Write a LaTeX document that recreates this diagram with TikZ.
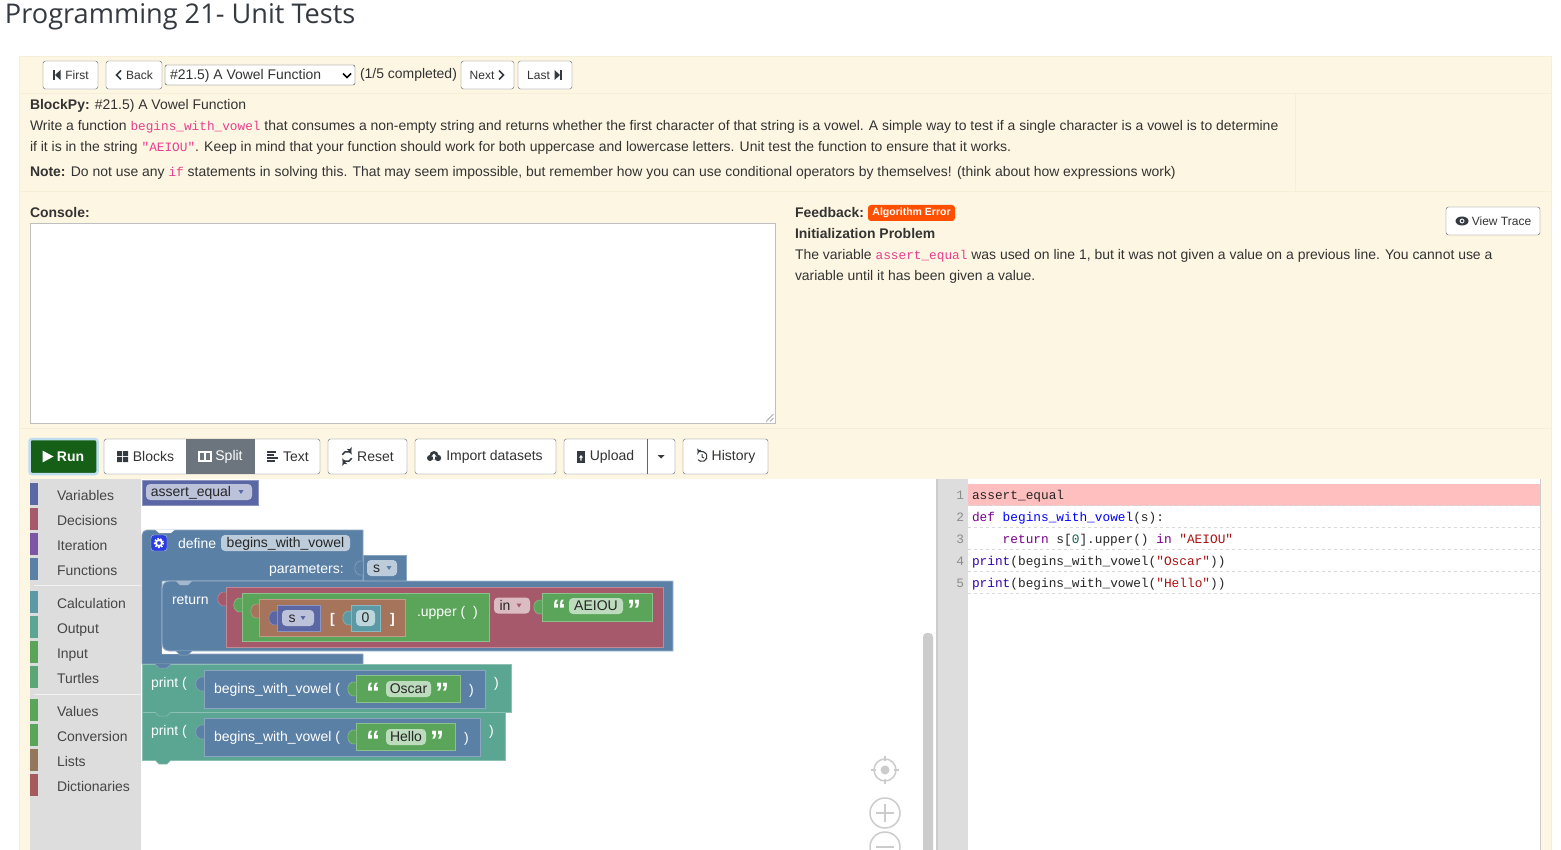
\documentclass[tikz,border=0pt]{standalone}
\usepackage{fontspec}
\setmainfont{Liberation Sans}
\setmonofont{Liberation Mono}
\newfontfamily\titlefont{Open Sans}
\usepackage{tikz}
\usetikzlibrary{positioning,shapes,arrows,backgrounds,calc}
\definecolor{panelbg}{HTML}{FDF6E3}
\definecolor{panelline}{HTML}{F6EFD8}
\definecolor{bodytext}{HTML}{333333}
\definecolor{codepink}{HTML}{E83E8C}
\definecolor{iconink}{HTML}{343A40}
\definecolor{btnline}{HTML}{5F666D}
\definecolor{splitgray}{HTML}{6C757D}
\definecolor{toolgray}{HTML}{DDDDDD}
\definecolor{rungreen}{HTML}{155F16}
\definecolor{runring}{HTML}{BEDDF0}
\definecolor{badgeorange}{HTML}{FF4F00}
\definecolor{gearblue}{HTML}{2A3DE0}
\definecolor{varcol}{HTML}{5B67A5}
\definecolor{logiccol}{HTML}{A5596A}
\definecolor{itercol}{HTML}{7D55A5}
\definecolor{fncol}{HTML}{5B80A5}
\definecolor{mathcol}{HTML}{5B99A5}
\definecolor{printcol}{HTML}{5BA593}
\definecolor{textcol}{HTML}{5BA55B}
\definecolor{listcol}{HTML}{A5745B}
\definecolor{dictcol}{HTML}{A55B5B}
\definecolor{cmkey}{HTML}{770088}
\definecolor{cmdef}{HTML}{0000FF}
\definecolor{cmbuiltin}{HTML}{3300AA}
\definecolor{cmstr}{HTML}{AA1111}
\definecolor{cmnum}{HTML}{116644}
\tikzstyle{page} = [anchor=base west, inner sep=0, outer sep=0, font=\fontsize{13.95}{16}\selectfont, text=bodytext]
\tikzstyle{btn} = [rectangle, draw=btnline, fill=white, rounded corners=2.5pt, %
   inner sep=0, outer sep=0, minimum height=28pt, text=bodytext, font=\fontsize{12}{14}\selectfont]
\tikzstyle{btnbig} = [btn, minimum height=35pt, font=\fontsize{14}{16}\selectfont]
\tikzstyle{seg} = [btnbig, draw=none, fill=none, rounded corners=0pt]
\tikzstyle{tool} = [page, text=black!73]
\tikzstyle{toolbar} = [rectangle, inner sep=0, outer sep=0, minimum width=8pt, minimum height=22pt]
\tikzstyle{block} = [rectangle, anchor=north west, inner sep=0, outer sep=0, line width=0.7pt]
\tikzstyle{varblock} = [block, fill=varcol, draw=varcol!70!white]
\tikzstyle{fnblock} = [block, fill=fncol, draw=fncol!70!white]
\tikzstyle{logicblock} = [block, fill=logiccol, draw=logiccol!70!white]
\tikzstyle{listblock} = [block, fill=listcol, draw=listcol!70!white]
\tikzstyle{textblock} = [block, fill=textcol, draw=textcol!70!white]
\tikzstyle{mathblock} = [block, fill=mathcol, draw=mathcol!70!white]
\tikzstyle{printblock} = [block, fill=printcol, draw=printcol!70!white]
\tikzstyle{field} = [rectangle, rounded corners=4pt, fill=white, fill opacity=0.6, text opacity=1, %
   inner sep=0, outer sep=0, minimum height=16pt, text height=12.5pt, text depth=3.5pt, %
   text=black!85, font=\fontsize{14}{16}\selectfont]
\tikzstyle{btext} = [anchor=base west, inner sep=0, outer sep=0, text=white, font=\fontsize{14}{16}\selectfont]
\tikzstyle{quotes} = [anchor=base west, inner sep=0, outer sep=0, text=white, font=\fontsize{28}{28}\bfseries\rmfamily]
\tikzstyle{codeline} = [anchor=base west, inner sep=0, outer sep=0, text=black!85, font=\fontsize{12.8}{14}\ttfamily]
\tikzstyle{lineno} = [anchor=base east, inner sep=0, outer sep=0, text=black!45, font=\fontsize{12.8}{14}\ttfamily]
\tikzstyle{zoomer} = [draw=black!20, line width=1.5pt]
\newcommand{\incode}[1]{\textcolor{codepink}{\fontsize{12.75}{14}\ttfamily #1}}
% left-hand jigsaw bump of a block
\newcommand{\jigsaw}[3]{\filldraw[fill=#3, draw=#3!70!white, line width=0.5pt] (#1,#2) %
   .. controls (#1-11,#2-2) and (#1-11,#2+16) .. (#1,#2+14);}
% little tab under a statement block
\newcommand{\undertab}[3]{\filldraw[fill=#3, draw=#3!70!white, line width=0.5pt] (#1,#2) -- (#1+4,#2+4) -- (#1+12,#2+4) -- (#1+16,#2);}
\newcommand{\dropmark}[3]{\fill[#3] (#1-2.5,#2-2) -- (#1+2.5,#2-2) -- (#1,#2+2) -- cycle;}
\begin{document}
\begin{tikzpicture}[x=1pt,y=-1pt]
   \clip (0,0) rectangle (1561,850);
   \fill[white] (0,0) rectangle (1561,850);
   \node[page, text=iconink, font=\fontsize{27.15}{32}\titlefont] (title) at (5,24) {Programming 21- Unit Tests};

   % PANEL %%%%%%%%%%%%%%%%%%%%%%%%%%%%%%%%%%%%%%%%%%%%%%%%%%
   \filldraw[fill=panelbg, draw=panelline] (19,56) rectangle (1551,860);
   \draw[panelline] (19,93.5) -- (1551,93.5);
   \draw[panelline] (19,191.5) -- (1551,191.5);
   \draw[panelline] (19,428.5) -- (1551,428.5);
   \draw[panelline] (1295.5,93.5) -- (1295.5,191.5);

   % Navigation row
   \node[btn, minimum width=55pt] (first) at (70.5,75) {\hspace{13pt}First};
   \node[btn, minimum width=56pt, right=8pt of first] (back) {\hspace{11pt}Back};
   \node[rectangle, draw=black!75, fill=white, rounded corners=2pt, inner sep=0, outer sep=0, %
      minimum width=190pt, minimum height=20pt, anchor=west] (chooser) at (165,75) {};
   \node[page] (choosertext) at (170,80) {\#21.5) A Vowel Function};
   \node[page] (completed) at (360,79) {(1/5 completed)};
   \node[btn, minimum width=53pt] (next) at (487.5,75) {Next\kern11pt};
   \node[btn, minimum width=54pt, right=4pt of next] (last) {Last\kern13pt};
   \fill[iconink] ([xshift=10pt,yshift=5pt]first.west) rectangle ++(2,10);
   \fill[iconink] ([xshift=12pt]first.west) -- ++(5.5,-5) -- ++(0,10) -- cycle;
   \draw[iconink, line width=1.6pt] ([xshift=15pt,yshift=4.5pt]back.west) -- ++(-4.5,4.5) -- ++(4.5,4.5);
   \draw[iconink, line width=1.6pt] ([xshift=-15pt,yshift=4.5pt]next.east) -- ++(4.5,4.5) -- ++(-4.5,4.5);
   \fill[iconink] ([xshift=-10pt,yshift=5pt]last.east) rectangle ++(-2,10);
   \fill[iconink] ([xshift=-12pt]last.east) -- ++(-5.5,-5) -- ++(0,10) -- cycle;
   \draw[black, line width=1.5pt] ([xshift=-12pt,yshift=1.5pt]chooser.east) -- ++(4,4) -- ++(4,-4);

   % Instructions
   \node[page] (blockpy) at (30,110) {\textbf{BlockPy:} \#21.5) A Vowel Function};
   \node[page] (prompta) at (30,131) {Write a function \incode{begins\_with\_vowel} that consumes a non-empty string and returns whether the first character of that string is a vowel. A simple way to test if a single character is a vowel is to determine};
   \node[page] (promptb) at (30,152) {if it is in the string \incode{"AEIOU"}. Keep in mind that your function should work for both uppercase and lowercase letters. Unit test the function to ensure that it works.};
   \node[page] (note) at (30,177) {\textbf{Note:} Do not use any \incode{if} statements in solving this. That may seem impossible, but remember how you can use conditional operators by themselves! (think about how expressions work)};

   % Console and feedback
   \node[page] (consolelabel) at (30,218) {\textbf{Console:}};
   \node[rectangle, draw=black!25, fill=white, inner sep=0, outer sep=0, minimum width=745pt, minimum height=200pt, anchor=north west] (console) at (30,223) {};
   \draw[black!50] ([xshift=-9pt,yshift=1.5pt]console.south east) -- ([xshift=-1.5pt,yshift=9pt]console.south east);
   \draw[black!50] ([xshift=-5pt,yshift=1.5pt]console.south east) -- ([xshift=-1.5pt,yshift=5pt]console.south east);
   \node[page] (feedbacklabel) at (795,218) {\textbf{Feedback:}};
   \node[rectangle, fill=badgeorange, rounded corners=3pt, inner sep=0, outer sep=0, minimum width=87pt, minimum height=16pt, %
      anchor=west, text=white, font=\fontsize{10.5}{12}\bfseries\selectfont] (badge) at (868,213) {Algorithm Error};
   \node[page] (problem) at (795,239) {\textbf{Initialization Problem}};
   \node[page] (feedbacka) at (795,260) {The variable \incode{assert\_equal} was used on line 1, but it was not given a value on a previous line. You cannot use a};
   \node[page] (feedbackb) at (795,281) {variable until it has been given a value.};
   \node[btn, minimum width=94pt] (trace) at (1493,221) {\hspace{17pt}View Trace};
   \fill[iconink, even odd rule] ([xshift=16pt]trace.west) ellipse [x radius=6.5, y radius=4.5] ([xshift=16pt]trace.west) circle (2.6);
   \fill[iconink] ([xshift=16pt]trace.west) circle (1.5);

   % ACTION ROW %%%%%%%%%%%%%%%%%%%%%%%%%%%%%%%%%%%%%%%%%%%%%%
   \filldraw[fill=white, draw=btnline, rounded corners=2.5pt] (104,439) rectangle (320,474);
   \filldraw[fill=white, draw=btnline, rounded corners=2.5pt] (564,439) rectangle (675,474);
   \node[btnbig, fill=rungreen, draw=runring, line width=2.5pt, minimum width=68pt, text=white] (run) at (63.5,456.5) {\hspace{14pt}\textbf{Run}};
   \node[seg, minimum width=82pt] (blocks) at (145,456.5) {\hspace{17pt}Blocks};
   \node[seg, fill=splitgray, minimum width=69pt, right=0pt of blocks, text=white] (split) {\hspace{17pt}Split};
   \node[seg, minimum width=65pt, right=0pt of split] (texts) {\hspace{17pt}Text};
   \node[btnbig, minimum width=79pt] (reset) at (367.5,456.5) {\hspace{16pt}Reset};
   \node[btnbig, minimum width=141pt, right=8pt of reset] (import) {\hspace{18pt}Import datasets};
   \node[seg, minimum width=83pt, right=8pt of import] (upload) {\hspace{13pt}Upload};
   \draw[btnline] (upload.north east) -- (upload.south east);
   \node[seg, minimum width=28pt, right=0pt of upload] (caret) {};
   \node[btnbig, minimum width=85pt, right=8pt of caret] (history) {\hspace{16pt}History};
   \fill[white] ([xshift=13pt,yshift=6pt]run.west) -- ++(11,6) -- ++(-11,6) -- cycle;
   \fill[iconink] ([xshift=13pt,yshift=5.5pt]blocks.west) rectangle ++(5,5) ++(1,-5) rectangle ++(5,5) ++(-11,1) rectangle ++(5,5) ++(1,-5) rectangle ++(5,5);
   \draw[white, line width=1.2pt] ([xshift=13pt,yshift=4.5pt]split.west) rectangle ++(12,9) ([xshift=19pt,yshift=4.5pt]split.west) -- ++(0,9);
   \draw[iconink, line width=1.1pt] ([xshift=12pt,yshift=4.5pt]texts.west) -- ++(9,0) ++(-9,3) -- ++(7,0) ++(-7,3) -- ++(11,0) ++(-11,3) -- ++(8,0);
   \draw[iconink, line width=1.5pt, -latex'] ([xshift=19pt]reset.west) ++(200:5) arc (200:340:5);
   \draw[iconink, line width=1.5pt, -latex'] ([xshift=19pt]reset.west) ++(20:5) arc (20:160:5);
   \fill[iconink] ([xshift=19pt,yshift=1pt]import.west) circle (4.5) ([xshift=15pt,yshift=-1.5pt]import.west) circle (3) ([xshift=23pt,yshift=-1.5pt]import.west) circle (3.2);
   \fill[white] ([xshift=18.2pt,yshift=-3pt]import.west) rectangle ++(1.6,-3) ([xshift=16.5pt,yshift=0pt]import.west) -- ++(5,0) -- ++(-2.5,-3) -- cycle;
   \fill[iconink] ([xshift=13pt,yshift=6pt]upload.west) rectangle ++(8,12);
   \fill[white] ([xshift=16.3pt,yshift=-4pt]upload.west) rectangle ++(1.4,-3) ([xshift=15pt,yshift=-1pt]upload.west) -- ++(4,0) -- ++(-2,-2.5) -- cycle;
   \fill[iconink] ([xshift=-3.5pt,yshift=1.5pt]caret.center) -- ++(7,0) -- ++(-3.5,3.5) -- cycle;
   \draw[iconink, line width=1.1pt, latex'-] ([xshift=19pt]history.west) ++(200:5) arc (200:500:5);
   \draw[iconink, line width=1pt] ([xshift=19pt,yshift=2.5pt]history.west) -- ++(0,3) -- ++(2,1);

   % TOOLBOX %%%%%%%%%%%%%%%%%%%%%%%%%%%%%%%%%%%%%%%%%%%%%%%%%
   \fill[white] (30,479) rectangle (1540,860);
   \fill[toolgray] (30,479) rectangle (141,860);
   \draw[black!6, line width=1pt] (34,585.5) -- (141,585.5);
   \draw[black!6, line width=1pt] (34,694) -- (141,694);
   \node[toolbar, fill=varcol] (barvar) at (34,494) {};
   \node[tool] (toolvar) at ([xshift=19pt,yshift=-6pt]barvar.east) {Variables};
   \node[toolbar, fill=logiccol] (barlogic) at (34,519) {};
   \node[tool] (toollogic) at ([xshift=19pt,yshift=-6pt]barlogic.east) {Decisions};
   \node[toolbar, fill=itercol] (bariter) at (34,544) {};
   \node[tool] (tooliter) at ([xshift=19pt,yshift=-6pt]bariter.east) {Iteration};
   \node[toolbar, fill=fncol] (barfn) at (34,569) {};
   \node[tool] (toolfn) at ([xshift=19pt,yshift=-6pt]barfn.east) {Functions};
   \node[toolbar, fill=mathcol] (barcalc) at (34,602) {};
   \node[tool] (toolcalc) at ([xshift=19pt,yshift=-6pt]barcalc.east) {Calculation};
   \node[toolbar, fill=printcol] (barout) at (34,627) {};
   \node[tool] (toolout) at ([xshift=19pt,yshift=-6pt]barout.east) {Output};
   \node[toolbar, fill=textcol] (barin) at (34,652) {};
   \node[tool] (toolin) at ([xshift=19pt,yshift=-6pt]barin.east) {Input};
   \node[toolbar, fill=printcol!50!textcol] (barturtle) at (34,677) {};
   \node[tool] (toolturtle) at ([xshift=19pt,yshift=-6pt]barturtle.east) {Turtles};
   \node[toolbar, fill=textcol] (barval) at (34,710) {};
   \node[tool] (toolval) at ([xshift=19pt,yshift=-6pt]barval.east) {Values};
   \node[toolbar, fill=textcol] (barconv) at (34,735) {};
   \node[tool] (toolconv) at ([xshift=19pt,yshift=-6pt]barconv.east) {Conversion};
   \node[toolbar, fill=listcol!60!textcol!60!dictcol] (barlist) at (34,760) {};
   \node[tool] (toollist) at ([xshift=19pt,yshift=-6pt]barlist.east) {Lists};
   \node[toolbar, fill=dictcol] (bardict) at (34,785) {};
   \node[tool] (tooldict) at ([xshift=19pt,yshift=-6pt]bardict.east) {Dictionaries};

   % BLOCKS %%%%%%%%%%%%%%%%%%%%%%%%%%%%%%%%%%%%%%%%%%%%%%%%%%
   \node[varblock, minimum width=116pt, minimum height=25pt] (assertblock) at (142,480) {};
   \node[field, minimum width=106pt, anchor=west] (assertfield) at (146,492) {assert\_equal\kern16pt};
   \dropmark{241}{492}{varcol}

   % define block
   \filldraw[fill=fncol, draw=fncol!70!white, line width=0.7pt] (363,530) -- (150,530) [rounded corners=5pt] -- (142,530) -- (142,600) [sharp corners] -- (142,664) -- (363,664) -- (363,654) -- (162,654) -- (162,581) -- (363,581) -- cycle;
   \filldraw[fill=white, draw=none] (155,529.5) -- (159,533) -- (171,533) -- (175,529.5) -- cycle;
   \node[fnblock, minimum width=43pt, minimum height=26pt] (paramblock) at (363,555) {};
   \jigsaw{363}{561}{fncol}
   \node[field, minimum width=30pt, anchor=west] (paramfield) at (367,568) {s\kern11pt};
   \dropmark{389}{568}{fncol}
   \node[rectangle, fill=gearblue, draw=white!60!fncol, rounded corners=3pt, inner sep=0, outer sep=0, minimum size=16pt] (gear) at (159,543) {};
   \draw[white, line width=1.8pt] (gear.center) circle (3);
   \draw[white, line width=1.4pt, dash pattern=on 1.6pt off 1.54pt] (gear.center) circle (4.5);
   \node[btext] (definetext) at (178,548) {define};
   \node[field, minimum width=129pt, anchor=west] (namefield) at (221,543) {begins\_with\_vowel};
   \node[btext] (paramtext) at (269,573) {parameters:};

   % return block
   \filldraw[fill=white, draw=none] (162,640) rectangle (185,654);
   \filldraw[fill=fncol, draw=fncol!55!white, line width=0.9pt] (673,581) -- (170,581) [rounded corners=7pt] -- (162,581) -- (162,651) [sharp corners] -- (673,651) -- cycle;
   \undertab{176}{651}{fncol}
   \filldraw[fill=fncol!55!white, draw=none] (176,581) -- (180,585) -- (188,585) -- (192,581) -- cycle;
   \node[btext] (returntext) at (172,604) {return};
   \node[logicblock, minimum width=437pt, minimum height=60pt] (inblock) at (226,587) {};
   \jigsaw{226}{592}{logiccol}
   \node[textblock, minimum width=247pt, minimum height=48pt] (upperblock) at (242,593) {};
   \jigsaw{242}{598}{textcol}
   \node[listblock, minimum width=146pt, minimum height=37pt] (indexblock) at (259,599) {};
   \jigsaw{259}{604}{listcol}
   \node[varblock, minimum width=43pt, minimum height=26pt] (svar) at (277,605) {};
   \jigsaw{277}{611}{varcol}
   \node[field, minimum width=32pt, anchor=west] (sfield) at (282,618) {s\kern12pt};
   \dropmark{303}{618}{varcol}
   \node[btext, font=\fontsize{14}{16}\bfseries\selectfont] (openbr) at (330,623) {[};
   \node[mathblock, minimum width=29pt, minimum height=26pt] (zeroblock) at (351,605) {};
   \jigsaw{351}{611}{mathcol}
   \node[field, minimum width=19pt, anchor=west] (zerofield) at (356,618) {0};
   \node[btext, font=\fontsize{14}{16}\bfseries\selectfont] (closebr) at (390,623) {]};
   \node[btext] (uppertext) at (417,616) {.upper (};
   \node[btext] (uppershut) at (473,616) {)};
   \node[field, fill=white, minimum width=36pt, minimum height=15pt, anchor=west] (infield) at (494,605.5) {in\kern14pt};
   \dropmark{519}{605.5}{logiccol}
   \node[textblock, minimum width=110pt, minimum height=28pt] (aeioublock) at (542,593) {};
   \jigsaw{542}{600}{textcol}
   \node[quotes] (aeiouopen) at (552,619) {“};
   \node[field, minimum width=54pt, anchor=west] (aeioufield) at (569,606) {AEIOU};
   \node[quotes] (aeiouclose) at (627,619) {”};

   % print blocks
   \node[printblock, minimum width=369pt, minimum height=48pt] (printa) at (142,664) {};
   \undertab{155}{664}{fncol}
   \node[btext] (printatext) at (151,687) {print (};
   \node[fnblock, minimum width=281pt, minimum height=38pt] (calla) at (204,670) {};
   \jigsaw{204}{677}{fncol}
   \node[btext] (callatext) at (214,693) {begins\_with\_vowel (};
   \node[textblock, minimum width=104pt, minimum height=27pt] (oscarblock) at (356,675) {};
   \jigsaw{356}{682}{textcol}
   \node[quotes] (oscaropen) at (366,702) {“};
   \node[field, minimum width=45pt, anchor=west] (oscarfield) at (386,689) {Oscar};
   \node[quotes] (oscarclose) at (435,702) {”};
   \node[btext] (callashut) at (469,694) {)};
   \node[btext] (printashut) at (494,687) {)};
   \node[printblock, minimum width=363pt, minimum height=48pt] (printb) at (142,712) {};
   \undertab{155}{712}{printcol}
   \undertab{155}{760}{printcol}
   \node[btext] (printbtext) at (151,735) {print (};
   \node[fnblock, minimum width=276pt, minimum height=38pt] (callb) at (204,718) {};
   \jigsaw{204}{725}{fncol}
   \node[btext] (callbtext) at (214,741) {begins\_with\_vowel (};
   \node[textblock, minimum width=99pt, minimum height=27pt] (helloblock) at (356,723) {};
   \jigsaw{356}{730}{textcol}
   \node[quotes] (helloopen) at (366,750) {“};
   \node[field, minimum width=40pt, anchor=west] (hellofield) at (386,737) {Hello};
   \node[quotes] (helloclose) at (430,750) {”};
   \node[btext] (callbshut) at (464,742) {)};
   \node[btext] (printbshut) at (489,735) {)};

   % Workspace controls
   \draw[zoomer] (885,770) circle (11);
   \fill[black!20] (885,770) circle (4.5);
   \draw[zoomer] (885,756) -- (885,761) (885,779) -- (885,784) (871,770) -- (876,770) (894,770) -- (899,770);
   \draw[zoomer] (885,813) circle (15);
   \draw[zoomer] (876,813) -- (894,813) (885,804) -- (885,822);
   \draw[zoomer] (885,847) circle (15);
   \draw[zoomer] (876,847) -- (894,847);
   \fill[black!20, rounded corners=4pt] (923,633) rectangle (933,870);

   % CODE EDITOR %%%%%%%%%%%%%%%%%%%%%%%%%%%%%%%%%%%%%%%%%%%%%
   \fill[black!20] (935.5,479) rectangle (938,860);
   \fill[toolgray] (938,479) rectangle (968,860);
   \draw[black!20] (1540,479) -- (1540,860);
   \fill[red!25!white] (968,484) rectangle (1539.5,505.5);
   \draw[black!15, dashed] (968,505.5) -- (1539.5,505.5);
   \draw[black!15, dashed] (968,527.5) -- (1539.5,527.5);
   \draw[black!15, dashed] (968,549.5) -- (1539.5,549.5);
   \draw[black!15, dashed] (968,571.5) -- (1539.5,571.5);
   \draw[black!15, dashed] (968,593.5) -- (1539.5,593.5);
   \node[lineno] (numa) at (964,499) {1};
   \node[lineno] (numb) at (964,521) {2};
   \node[lineno] (numc) at (964,543) {3};
   \node[lineno] (numd) at (964,565) {4};
   \node[lineno] (nume) at (964,587) {5};
   \node[codeline] (linea) at (972,499) {assert\_equal};
   \node[codeline] (lineb) at (972,521) {\textcolor{cmkey}{def} \textcolor{cmdef}{begins\_with\_vowel}(s):};
   \node[codeline] (linec) at (972,543) {\hspace{30.7pt}\textcolor{cmkey}{return} s[\textcolor{cmnum}{0}].upper() \textcolor{cmkey}{in} \textcolor{cmstr}{"AEIOU"}};
   \node[codeline] (lined) at (972,565) {\textcolor{cmbuiltin}{print}(begins\_with\_vowel(\textcolor{cmstr}{"Oscar"}))};
   \node[codeline] (linee) at (972,587) {\textcolor{cmbuiltin}{print}(begins\_with\_vowel(\textcolor{cmstr}{"Hello"}))};
\end{tikzpicture}
\end{document}
